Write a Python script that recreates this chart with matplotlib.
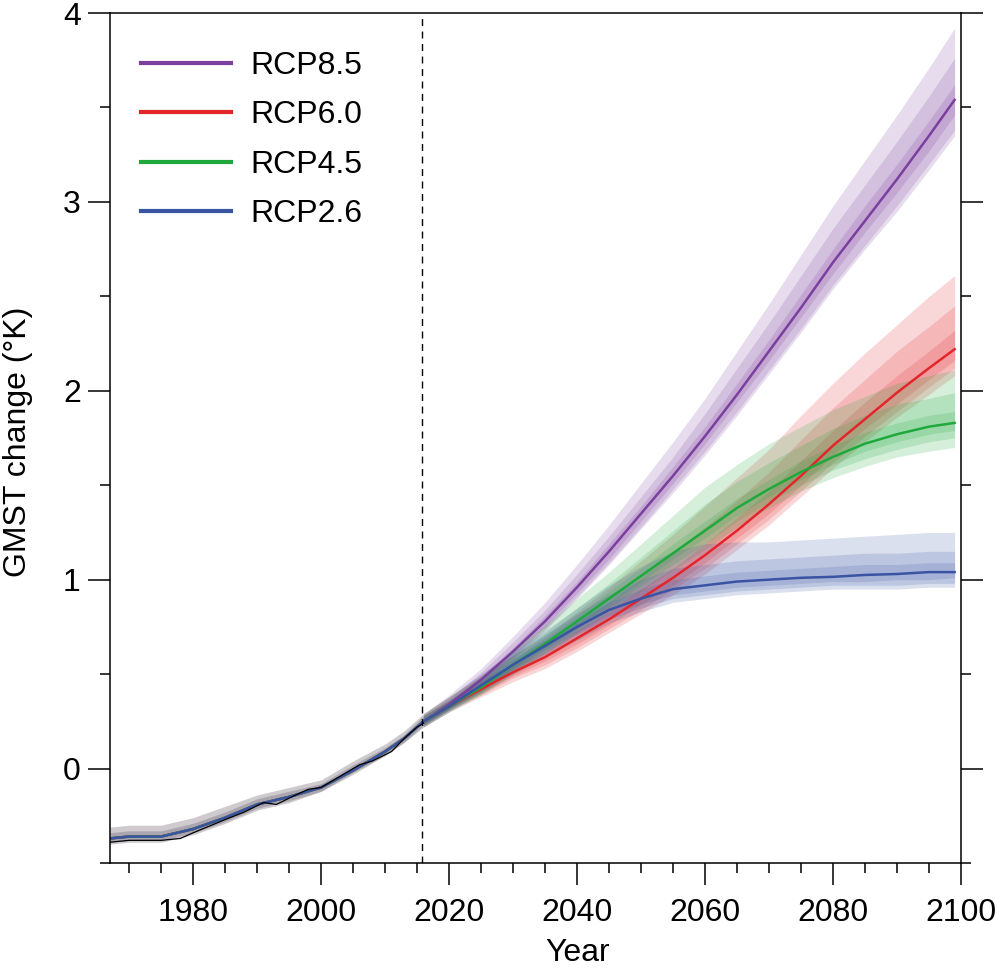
import numpy as np
import matplotlib
matplotlib.use('agg')
import matplotlib.pyplot as plt

plt.rcParams['font.family'] = ['Liberation Sans', 'DejaVu Sans']
plt.rcParams['font.size'] = 23

# model historical period (shared by the four scenarios)
hist_years = [1967, 1970, 1975, 1980, 1985, 1990, 1995, 2000, 2005, 2010, 2013]
hist_med = [-0.37, -0.36, -0.36, -0.32, -0.26, -0.19, -0.15, -0.10, -0.01, 0.09, 0.16]
hist_hi = [-0.31, -0.30, -0.30, -0.26, -0.20, -0.14, -0.10, -0.06, 0.04, 0.13, 0.20]
hist_lo = [-0.40, -0.39, -0.39, -0.35, -0.29, -0.22, -0.18, -0.12, -0.03, 0.07, 0.14]
hist_mid_hi = [-0.34, -0.33, -0.33, -0.29, -0.23, -0.16, -0.12, -0.08, 0.02, 0.11, 0.18]
hist_mid_lo = [-0.39, -0.38, -0.38, -0.34, -0.28, -0.21, -0.17, -0.12, -0.02, 0.07, 0.14]

# observed GMST
obs_years = [1967, 1970, 1975, 1978, 1980, 1985, 1988, 1991, 1993, 1996, 1998,
             2000, 2003, 2006, 2008, 2011, 2013, 2015, 2016]
obs = [-0.39, -0.38, -0.38, -0.37, -0.34, -0.27, -0.23, -0.18, -0.19, -0.14, -0.11,
       -0.10, -0.04, 0.02, 0.04, 0.09, 0.16, 0.22, 0.24]

# projections
fut_years = [2016, 2020, 2025, 2030, 2035, 2040, 2045, 2050, 2055, 2060,
             2065, 2070, 2075, 2080, 2085, 2090, 2095, 2099]

rcp85_med = [0.25, 0.34, 0.47, 0.62, 0.78, 0.96, 1.15, 1.35, 1.55, 1.76, 1.98, 2.21, 2.44, 2.68, 2.90, 3.12, 3.35, 3.54]
rcp85_out_hi = [0.29, 0.39, 0.53, 0.70, 0.88, 1.08, 1.29, 1.51, 1.73, 1.96, 2.21, 2.46, 2.72, 2.98, 3.22, 3.46, 3.71, 3.92]
rcp85_out_lo = [0.22, 0.31, 0.43, 0.58, 0.73, 0.90, 1.08, 1.27, 1.46, 1.66, 1.87, 2.09, 2.31, 2.54, 2.75, 2.95, 3.17, 3.35]
rcp85_mid_hi = [0.28, 0.37, 0.51, 0.67, 0.84, 1.03, 1.23, 1.44, 1.65, 1.88, 2.12, 2.36, 2.61, 2.86, 3.09, 3.32, 3.56, 3.76]
rcp85_mid_lo = [0.23, 0.32, 0.44, 0.59, 0.74, 0.91, 1.09, 1.28, 1.48, 1.68, 1.89, 2.11, 2.33, 2.56, 2.77, 2.98, 3.20, 3.38]
rcp85_in_hi = [0.26, 0.36, 0.49, 0.64, 0.81, 0.99, 1.19, 1.39, 1.60, 1.81, 2.04, 2.27, 2.51, 2.75, 2.98, 3.20, 3.43, 3.62]
rcp85_in_lo = [0.24, 0.32, 0.45, 0.60, 0.75, 0.93, 1.11, 1.31, 1.51, 1.72, 1.94, 2.16, 2.39, 2.62, 2.84, 3.05, 3.27, 3.46]

rcp60_med = [0.25, 0.33, 0.42, 0.51, 0.59, 0.69, 0.79, 0.90, 1.01, 1.13, 1.26, 1.40, 1.55, 1.71, 1.85, 1.99, 2.12, 2.22]
rcp60_out_hi = [0.29, 0.38, 0.49, 0.60, 0.70, 0.83, 0.96, 1.10, 1.24, 1.39, 1.54, 1.69, 1.87, 2.04, 2.20, 2.35, 2.50, 2.61]
rcp60_out_lo = [0.22, 0.30, 0.38, 0.46, 0.53, 0.62, 0.72, 0.82, 0.92, 1.03, 1.16, 1.29, 1.44, 1.59, 1.73, 1.86, 1.98, 2.08]
rcp60_mid_hi = [0.28, 0.36, 0.46, 0.56, 0.65, 0.77, 0.88, 1.01, 1.14, 1.28, 1.42, 1.57, 1.74, 1.91, 2.06, 2.21, 2.34, 2.45]
rcp60_mid_lo = [0.23, 0.31, 0.39, 0.48, 0.55, 0.64, 0.74, 0.84, 0.95, 1.06, 1.19, 1.32, 1.47, 1.62, 1.76, 1.89, 2.02, 2.12]
rcp60_in_hi = [0.26, 0.35, 0.44, 0.54, 0.62, 0.73, 0.83, 0.95, 1.06, 1.19, 1.33, 1.47, 1.63, 1.79, 1.94, 2.08, 2.21, 2.32]
rcp60_in_lo = [0.24, 0.32, 0.40, 0.49, 0.57, 0.66, 0.76, 0.87, 0.97, 1.09, 1.22, 1.35, 1.50, 1.66, 1.80, 1.93, 2.06, 2.16]

rcp45_med = [0.25, 0.33, 0.43, 0.55, 0.66, 0.78, 0.90, 1.02, 1.14, 1.26, 1.38, 1.48, 1.57, 1.65, 1.72, 1.77, 1.81, 1.83]
rcp45_out_hi = [0.29, 0.38, 0.49, 0.63, 0.76, 0.90, 1.04, 1.19, 1.34, 1.49, 1.61, 1.72, 1.81, 1.90, 1.97, 2.04, 2.08, 2.11]
rcp45_out_lo = [0.22, 0.30, 0.39, 0.50, 0.61, 0.72, 0.83, 0.94, 1.05, 1.16, 1.28, 1.38, 1.47, 1.54, 1.60, 1.65, 1.68, 1.70]
rcp45_mid_hi = [0.28, 0.36, 0.47, 0.60, 0.72, 0.85, 0.98, 1.12, 1.26, 1.40, 1.52, 1.62, 1.71, 1.80, 1.87, 1.93, 1.96, 1.99]
rcp45_mid_lo = [0.23, 0.31, 0.40, 0.52, 0.62, 0.74, 0.85, 0.97, 1.08, 1.19, 1.31, 1.41, 1.50, 1.58, 1.64, 1.69, 1.73, 1.75]
rcp45_in_hi = [0.26, 0.35, 0.45, 0.58, 0.69, 0.81, 0.94, 1.06, 1.19, 1.31, 1.43, 1.53, 1.63, 1.71, 1.78, 1.83, 1.87, 1.89]
rcp45_in_lo = [0.24, 0.32, 0.41, 0.53, 0.64, 0.75, 0.87, 0.99, 1.11, 1.22, 1.34, 1.44, 1.53, 1.61, 1.68, 1.73, 1.77, 1.79]

rcp26_med = [0.25, 0.33, 0.44, 0.55, 0.65, 0.75, 0.84, 0.90, 0.95, 0.97, 0.99, 1.00, 1.01, 1.015, 1.025, 1.03, 1.04, 1.04]
rcp26_out_hi = [0.29, 0.38, 0.50, 0.62, 0.73, 0.85, 0.97, 1.07, 1.15, 1.19, 1.20, 1.20, 1.21, 1.22, 1.23, 1.24, 1.25, 1.25]
rcp26_out_lo = [0.22, 0.30, 0.40, 0.50, 0.59, 0.68, 0.77, 0.83, 0.88, 0.90, 0.92, 0.93, 0.94, 0.95, 0.95, 0.95, 0.96, 0.96]
rcp26_mid_hi = [0.28, 0.36, 0.48, 0.60, 0.71, 0.82, 0.92, 1.00, 1.06, 1.08, 1.10, 1.11, 1.12, 1.13, 1.14, 1.14, 1.15, 1.15]
rcp26_mid_lo = [0.23, 0.31, 0.41, 0.52, 0.61, 0.71, 0.79, 0.85, 0.90, 0.92, 0.94, 0.95, 0.96, 0.97, 0.97, 0.97, 0.98, 0.98]
rcp26_in_hi = [0.26, 0.35, 0.46, 0.58, 0.68, 0.79, 0.88, 0.95, 1.00, 1.02, 1.04, 1.05, 1.06, 1.07, 1.08, 1.08, 1.09, 1.09]
rcp26_in_lo = [0.24, 0.32, 0.42, 0.53, 0.63, 0.72, 0.81, 0.87, 0.92, 0.94, 0.96, 0.97, 0.98, 0.99, 0.99, 1.00, 1.00, 1.01]

labels = ['RCP8.5', 'RCP6.0', 'RCP4.5', 'RCP2.6']
colors = ['#7b3f9e', '#e3262b', '#1fa83c', '#3a54a4']

escenarios = [
    (rcp85_med, rcp85_out_lo, rcp85_out_hi, rcp85_mid_lo, rcp85_mid_hi, rcp85_in_lo, rcp85_in_hi),
    (rcp60_med, rcp60_out_lo, rcp60_out_hi, rcp60_mid_lo, rcp60_mid_hi, rcp60_in_lo, rcp60_in_hi),
    (rcp45_med, rcp45_out_lo, rcp45_out_hi, rcp45_mid_lo, rcp45_mid_hi, rcp45_in_lo, rcp45_in_hi),
    (rcp26_med, rcp26_out_lo, rcp26_out_hi, rcp26_mid_lo, rcp26_mid_hi, rcp26_in_lo, rcp26_in_hi),
]

years = np.array(hist_years + fut_years)
hist_x = hist_years + fut_years[:1]

fig = plt.figure(figsize=(9.97, 9.73), dpi=100)
ax = fig.add_axes([110 / 997, 110 / 973, 851 / 997, 850 / 973])

# historical bands (four scenarios overlap here, so lighter)
for (med, olo, ohi, mlo, mhi, ilo, ihi), c in zip(escenarios, colors):
    ax.fill_between(hist_x, hist_lo + olo[:1], hist_hi + ohi[:1], color=c, alpha=0.09, lw=0)
    ax.fill_between(hist_x, hist_mid_lo + mlo[:1], hist_mid_hi + mhi[:1], color=c, alpha=0.09, lw=0)

# projection bands
for (med, olo, ohi, mlo, mhi, ilo, ihi), c in zip(escenarios, colors):
    ax.fill_between(fut_years, olo, ohi, color=c, alpha=0.18, lw=0)
    ax.fill_between(fut_years, mlo, mhi, color=c, alpha=0.18, lw=0)
    ax.fill_between(fut_years, ilo, ihi, color=c, alpha=0.18, lw=0)

for (med, *_), c, lab in zip(escenarios, colors, labels):
    ax.plot(years, hist_med + med, color=c, lw=1.8, label=lab)

ax.plot(obs_years, obs, color='black', lw=0.9)
ax.axvline(2015.75, color='black', lw=1.0, ls=(0, (5, 4)))

ax.set_xlim(1967, 2100)
ax.set_ylim(-0.5, 4)
ax.set_xticks([1980, 2000, 2020, 2040, 2060, 2080, 2100])
ax.set_xticks(np.arange(1970, 2100, 5), minor=True)
ax.set_yticks([0, 1, 2, 3, 4])
ax.set_yticks(np.arange(-0.5, 4, 0.5), minor=True)

ax.tick_params(which='both', direction='out', width=1.1, top=False, right=True)
ax.tick_params(which='major', length=16)
ax.tick_params(which='minor', length=7.5)
ax.tick_params(axis='x', which='major', pad=9)
ax.tick_params(axis='y', which='major', pad=5)
for s in ax.spines.values():
    s.set_linewidth(1.1)

ax.set_xlabel('Year')
ax.xaxis.set_label_coords(0.55, -0.088)
ax.set_ylabel('GMST change (°K)')
ax.yaxis.set_label_coords(-0.09, 0.495)

leg = ax.legend(loc='upper left', bbox_to_anchor=(0.0364, 0.9553), frameon=False,
                borderpad=0, borderaxespad=0, handlelength=2.82, handletextpad=0.6,
                labelspacing=0.61)
for linea in leg.get_lines():
    linea.set_linewidth(3)

fig.savefig('out.png', dpi=100)
plt.close(fig)
